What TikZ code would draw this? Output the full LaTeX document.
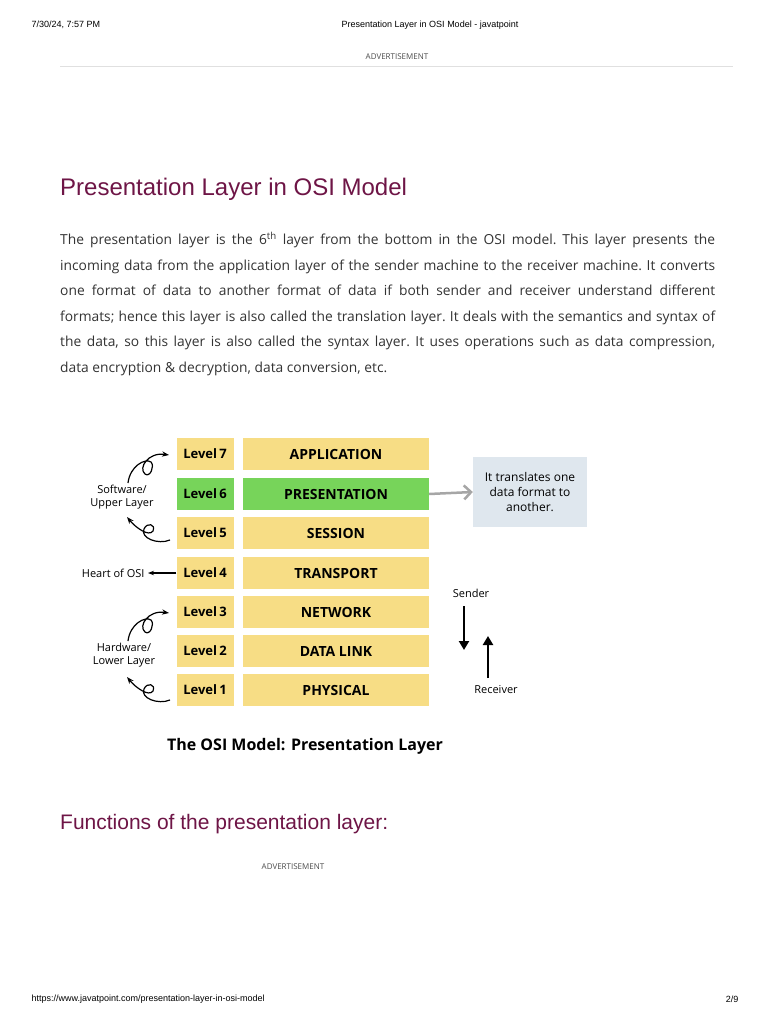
\documentclass[tikz,border=0pt]{standalone}
\usepackage{fontspec}
\setmainfont{Open Sans}
\newfontfamily\arial{Liberation Sans}
\usetikzlibrary{arrows.meta}
\definecolor{yel}{HTML}{F7DD85}
\definecolor{grn}{HTML}{77D45A}
\definecolor{infob}{HTML}{DFE7EE}
\definecolor{maroon}{HTML}{6E1546}
\tikzset{
 lvl/.style={fill=yel,minimum width=57pt,minimum height=32pt,inner sep=0pt,font=\fontsize{13}{15}\selectfont\bfseries},
 lay/.style={fill=yel,minimum width=186pt,minimum height=32pt,inner sep=0pt,font=\fontsize{14}{16}\selectfont\bfseries},
 small/.style={font=\fontsize{11}{13}\selectfont,align=center},
 curl/.style={line width=1.2pt,-{Stealth[length=7pt]}},
}
\begin{document}
\begin{tikzpicture}[x=1pt,y=-1pt]
\useasboundingbox (0,0) rectangle (768,1024);
\fill[white] (0,0) rectangle (768,1024);
% header
\node[anchor=west,font=\arial\fontsize{9}{10}\selectfont] (date) at (28,25) {7/30/24, 7:57 PM};
\node[font=\arial\fontsize{9}{10}\selectfont] (ptitle) at (430,25) {Presentation Layer in OSI Model - javatpoint};
\node[font=\fontsize{8}{9}\selectfont,text=black!70] (ad1) at (397,57) {ADVERTISEMENT};
\draw[black!12] (60,66) -- (733,66);
% title
\node[anchor=west,text=maroon,font=\arial\fontsize{24}{28}\selectfont,inner sep=0pt] (title) at (60,189) {Presentation Layer in OSI Model};
\node[anchor=north west,inner sep=0pt,text=black!80,font=\fontsize{13.8}{25.5}\selectfont] (para) at (60,232) {\parbox{655pt}{\parindent=0pt\frenchspacing
The presentation layer is the 6\textsuperscript{th} layer from the bottom in the OSI model. This layer presents the\linebreak
incoming data from the application layer of the sender machine to the receiver machine. It converts\linebreak
one format of data to another format of data if both sender and receiver understand different\linebreak
formats; hence this layer is also called the translation layer. It deals with the semantics and syntax of\linebreak
the data, so this layer is also called the syntax layer. It uses operations such as data compression,\linebreak
data encryption \& decryption, data conversion, etc.}};
% diagram
\foreach \n/\y/\lab/\col in {7/454/APPLICATION/yel,6/494/PRESENTATION/grn,5/533/SESSION/yel,4/573/TRANSPORT/yel,3/612/NETWORK/yel,2/651/DATA LINK/yel,1/690/PHYSICAL/yel}{
 \node[lvl,fill=\col] (L\n) at (205,\y) {Level\,\n};
 \node[lay,fill=\col] (A\n) at (336,\y) {\lab};
}
\node[fill=infob,minimum width=114pt,minimum height=70pt,small,font=\fontsize{12}{15}\selectfont] (info) at (530,492) {It translates one\\data format to\\another.};
\draw[black!35,line width=2.5pt,-{Straight Barb[length=7pt]}] (A6.east) -- (info.west);
\node[small] (sw) at (122,497) {Software/\\Upper Layer};
\node[small] (hw) at (124,655) {Hardware/\\Lower Layer};
\node[small,anchor=east] (heart) at (148,573) {Heart of OSI};
\draw[line width=1.2pt,-{Stealth[length=6pt]}] (L4.west) -- (heart.east);
\coordinate (c1s) at (128,483); \coordinate (c1e) at (169,455);
\draw[curl] (c1s) .. controls (130,466) and (145,458) .. (151,462) .. controls (155,466) and (150,478) .. (145,474) .. controls (138,468) and (148,452) .. (c1e);
\coordinate (c2s) at (170,540); \coordinate (c2e) at (127,517);
\draw[curl] (c2s) .. controls (158,545) and (140,538) .. (144,529) .. controls (147,522) and (156,524) .. (153,531) .. controls (149,537) and (136,528) .. (c2e);
\coordinate (c3s) at (128,641); \coordinate (c3e) at (169,613);
\draw[curl] (c3s) .. controls (130,624) and (145,616) .. (151,620) .. controls (155,624) and (150,636) .. (145,632) .. controls (138,626) and (148,610) .. (c3e);
\coordinate (c4s) at (170,700); \coordinate (c4e) at (127,677);
\draw[curl] (c4s) .. controls (158,705) and (140,698) .. (144,689) .. controls (147,682) and (156,684) .. (153,691) .. controls (149,697) and (136,688) .. (c4e);
\node[small] (snd) at (471,593) {Sender};
\node[small] (rcv) at (496,690) {Receiver};
\coordinate (d1) at (464,606); \coordinate (d2) at (464,650);
\coordinate (u1) at (488,678); \coordinate (u2) at (488,636);
\draw[line width=2.2pt,-{Triangle[length=9pt,width=10pt]}] (d1) -- (d2);
\draw[line width=2.2pt,-{Triangle[length=9pt,width=10pt]}] (u1) -- (u2);
\node[font=\fontsize{16}{18}\selectfont\bfseries] (cap) at (305,746) {The OSI Model: Presentation Layer};
\node[anchor=west,text=maroon,font=\arial\fontsize{21}{25}\selectfont,inner sep=0pt] (func) at (60,824) {Functions of the presentation layer:};
\node[font=\fontsize{8}{9}\selectfont,text=black!70] (ad2) at (293,867) {ADVERTISEMENT};
\node[anchor=west,font=\arial\fontsize{9}{10}\selectfont] (url) at (28,999) {https://www.javatpoint.com/presentation-layer-in-osi-model};
\node[anchor=east,font=\arial\fontsize{9}{10}\selectfont] (pg) at (742,999) {2/9};
\end{tikzpicture}
\end{document}
